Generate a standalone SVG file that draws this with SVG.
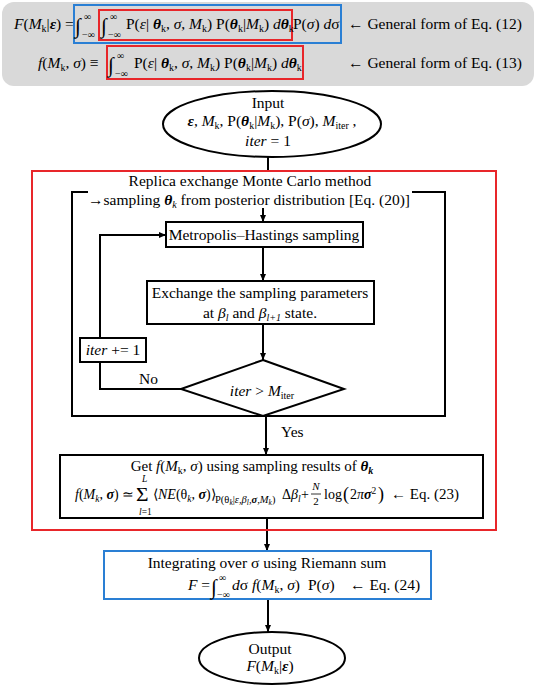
<svg xmlns="http://www.w3.org/2000/svg" width="536" height="685" viewBox="0 0 536 685">
<defs>
<marker id="ah" markerWidth="8" markerHeight="8" refX="7" refY="4" orient="auto" markerUnits="userSpaceOnUse">
<path d="M0,1 L7,4 L0,7 Z" fill="#000"/>
</marker>
<style>
text{font-family:"Liberation Serif","Times New Roman",serif;font-size:15.5px;fill:#000}
.c{text-anchor:middle}
.i{font-style:italic}
.b{font-weight:bold;font-style:italic}
.s{font-size:10px}
.lim{font-size:10px}
.int{font-size:21px}
.f{font-size:14px}
.fs{font-size:9.5px}
.fss{font-size:7.5px}
.box{fill:#fff;stroke:#000;stroke-width:2}
.ln{fill:none;stroke:#000;stroke-width:2}
.red{fill:none;stroke:#e8262a;stroke-width:2}
.blue{fill:none;stroke:#2a7fd4;stroke-width:2}
</style>
</defs>
<rect width="536" height="685" fill="#fff"/>

<g id="header">
<rect x="2" y="2" width="532" height="84" rx="12" fill="#d9d9d9"/>
<rect x="74" y="5" width="267" height="38" class="blue"/>
<rect x="99" y="10" width="193" height="30" class="red"/>
<rect x="107" y="46" width="196" height="33" class="red"/>
<text x="14" y="29"><tspan class="i">F</tspan>(<tspan class="i">M</tspan><tspan class="s" dy="3">k</tspan><tspan dy="-3">|</tspan><tspan class="b">ε</tspan>) =</text>
<text x="75" y="33" class="int">∫</text>
<text x="84" y="20" class="lim">∞</text>
<text x="82" y="38" class="lim">−∞</text>
<text x="101" y="33" class="int">∫</text>
<text x="110" y="20" class="lim">∞</text>
<text x="108" y="38" class="lim">−∞</text>
<text x="126" y="29">P(<tspan class="i">ε</tspan>| <tspan class="b">θ</tspan><tspan class="s" dy="3">k</tspan><tspan dy="-3">, </tspan><tspan class="i">σ</tspan>, <tspan class="i">M</tspan><tspan class="s" dy="3">k</tspan><tspan dy="-3">) P(</tspan><tspan class="b">θ</tspan><tspan class="s" dy="3">k</tspan><tspan dy="-3">|</tspan><tspan class="i">M</tspan><tspan class="s" dy="3">k</tspan><tspan dy="-3">) </tspan><tspan class="i">d</tspan><tspan class="b">θ</tspan><tspan class="s" dy="3">k</tspan></text>
<text x="293" y="29">P(<tspan class="i">σ</tspan>) <tspan class="i">d</tspan>σ</text>
<text x="348" y="29">← General form of Eq. (12)</text>
<text x="38" y="68"><tspan class="i">f</tspan>(<tspan class="i">M</tspan><tspan class="s" dy="3">k</tspan><tspan dy="-3">, </tspan><tspan class="i">σ</tspan>) ≡</text>
<text x="108" y="72" class="int">∫</text>
<text x="117" y="59" class="lim">∞</text>
<text x="115" y="77" class="lim">−∞</text>
<text x="134" y="68">P(<tspan class="i">ε</tspan>| <tspan class="b">θ</tspan><tspan class="s" dy="3">k</tspan><tspan dy="-3">, </tspan><tspan class="i">σ</tspan>, <tspan class="i">M</tspan><tspan class="s" dy="3">k</tspan><tspan dy="-3">) P(</tspan><tspan class="b">θ</tspan><tspan class="s" dy="3">k</tspan><tspan dy="-3">|</tspan><tspan class="i">M</tspan><tspan class="s" dy="3">k</tspan><tspan dy="-3">) </tspan><tspan class="i">d</tspan><tspan class="b">θ</tspan><tspan class="s" dy="3">k</tspan></text>
<text x="348" y="68">← General form of Eq. (13)</text>
</g>

<g id="connectors">
<line x1="268" y1="157" x2="268" y2="171" class="ln"/>
<line x1="263" y1="208" x2="263" y2="222" class="ln" marker-end="url(#ah)"/>
<line x1="263" y1="247" x2="263" y2="281" class="ln" marker-end="url(#ah)"/>
<line x1="263" y1="324" x2="263" y2="360" class="ln" marker-end="url(#ah)"/>
<polyline points="100,338 100,235 166,235" class="ln" marker-end="url(#ah)"/>
<polyline points="100,362 100,389 181,389" class="ln"/>
<line x1="266" y1="416" x2="266" y2="455" class="ln" marker-end="url(#ah)"/>
<line x1="267" y1="518" x2="267" y2="551" class="ln" marker-end="url(#ah)"/>
<line x1="268" y1="599" x2="268" y2="632" class="ln" marker-end="url(#ah)"/>
<text x="139" y="384">No</text>
<text x="281" y="437">Yes</text>
</g>

<g id="input">
<ellipse cx="272" cy="124" rx="109" ry="33" class="box"/>
<text x="268" y="108" class="c">Input</text>
<text x="272" y="126" class="c"><tspan class="b">ε</tspan>, <tspan class="i">M</tspan><tspan class="s" dy="2.5">k</tspan><tspan dy="-2.5">, P(</tspan><tspan class="b">θ</tspan><tspan class="s" dy="2.5">k</tspan><tspan dy="-2.5">|</tspan><tspan class="i">M</tspan><tspan class="s" dy="2.5">k</tspan><tspan dy="-2.5">), P(</tspan><tspan class="i">σ</tspan>), <tspan class="i">M</tspan><tspan class="s" dy="2.5">iter</tspan><tspan dy="-2.5"> ,</tspan></text>
<text x="268" y="145.5" class="c"><tspan class="i">iter</tspan> = 1</text>
</g>

<g id="remc">
<rect x="32" y="171" width="464" height="359" class="red"/>
<polyline points="88,192 72,192 72,416 445,416 445,192 412,192" class="ln"/>
<text x="250" y="186" class="c">Replica exchange Monte Carlo method</text>
<text x="249" y="205" class="c">→sampling <tspan class="b">θ</tspan><tspan class="s i" dy="3">k</tspan><tspan dy="-3"> from posterior distribution [Eq. (20)]</tspan></text>
</g>

<g id="mh">
<rect x="166" y="222" width="197" height="25" class="box"/>
<text x="264" y="240" class="c">Metropolis–Hastings sampling</text>
</g>

<g id="exchange">
<rect x="147" y="281" width="227" height="43" class="box"/>
<text x="260" y="298" class="c">Exchange the sampling parameters</text>
<text x="260" y="318" class="c">at <tspan class="i">β</tspan><tspan class="s i" dy="3">l</tspan><tspan dy="-3"> and </tspan><tspan class="i">β</tspan><tspan class="s i" dy="3">l+1</tspan><tspan dy="-3"> state.</tspan></text>
</g>

<g id="iter-inc">
<rect x="80" y="338" width="66" height="24" class="box"/>
<text x="113" y="355" class="c"><tspan class="i">iter</tspan> += 1</text>
</g>

<g id="decision">
<polygon points="263,360 344,389 263,416 181,389" class="box"/>
<text x="262" y="396" class="c"><tspan class="i">iter</tspan> &gt; <tspan class="i">M</tspan><tspan class="s" dy="3">iter</tspan></text>
</g>

<g id="getf">
<rect x="60" y="455" width="423" height="63" class="box"/>
<text x="252" y="471" class="c" style="font-size:15px">Get <tspan class="i">f</tspan>(<tspan class="i">M</tspan><tspan class="s" dy="3">k</tspan><tspan dy="-3">, </tspan><tspan class="i">σ</tspan>) using sampling results of <tspan class="b">θ</tspan><tspan class="s b" dy="3">k</tspan></text>
<text x="75" y="499" class="f"><tspan class="i">f</tspan>(<tspan class="i">M</tspan><tspan class="fs i" dy="3">k</tspan><tspan dy="-3">, </tspan><tspan class="b">σ</tspan>) ≃</text>
<text transform="translate(136,501) scale(1.35,1.15)" style="font-size:16px">Σ</text>
<text x="142" y="482" class="fs i">L</text>
<text x="139" y="515" class="fs"><tspan class="i">l</tspan>=1</text>
<text x="153" y="499" class="f">⟨<tspan class="i">NE</tspan>(θ<tspan class="fs i" dy="3">k</tspan><tspan dy="-3">, </tspan><tspan class="b">σ</tspan>)⟩</text>
<text x="215" y="503" style="font-size:10.5px">P(θ<tspan class="fss i" dy="2">k</tspan><tspan dy="-2">|</tspan><tspan class="i">ε</tspan>,<tspan class="i">β</tspan><tspan class="fss i" dy="2">l</tspan><tspan dy="-2">,</tspan><tspan class="b">σ</tspan>,<tspan class="i">M</tspan><tspan class="fss i" dy="2">k</tspan><tspan dy="-2">)</tspan></text>
<text x="282" y="499" class="f">Δ<tspan class="i">β</tspan><tspan class="fs i" dy="3">l</tspan></text>
<text x="301" y="499" class="f">+</text>
<text x="316" y="490" style="font-size:11px" class="c i">N</text>
<line x1="311" y1="494" x2="321" y2="494" stroke="#000" stroke-width="0.8"/>
<text x="316" y="505" style="font-size:11px" class="c">2</text>
<text x="324" y="499" class="f">log</text>
<text x="343" y="500" style="font-size:18px">(</text>
<text x="350" y="499" class="f">2<tspan class="i">π</tspan><tspan class="b">σ</tspan><tspan class="fs" dy="-5">2</tspan></text>
<text x="378" y="500" style="font-size:18px">)</text>
<text x="391" y="499" style="font-size:15px">← Eq. (23)</text>
</g>

<g id="integrate">
<rect x="104" y="551" width="327" height="48" class="blue"/>
<text x="267" y="568" class="c">Integrating over σ using Riemann sum</text>
<text x="188" y="590"><tspan class="i">F</tspan> =</text>
<text x="211" y="594" class="int">∫</text>
<text x="219" y="581" class="lim">∞</text>
<text x="217" y="598" class="lim">−∞</text>
<text x="232" y="590"><tspan class="i">d</tspan>σ</text>
<text x="252" y="590"><tspan class="i">f</tspan>(<tspan class="i">M</tspan><tspan class="s" dy="3">k</tspan><tspan dy="-3">, </tspan><tspan class="i">σ</tspan>)</text>
<text x="308" y="590">P(<tspan class="i">σ</tspan>)</text>
<text x="350" y="590">← Eq. (24)</text>
</g>

<g id="output">
<ellipse cx="272" cy="658" rx="73" ry="26" class="box"/>
<text x="270" y="654" class="c">Output</text>
<text x="270" y="671" class="c"><tspan class="i">F</tspan>(<tspan class="i">M</tspan><tspan class="s" dy="3">k</tspan><tspan dy="-3">|</tspan><tspan class="b">ε</tspan>)</text>
</g>
</svg>
